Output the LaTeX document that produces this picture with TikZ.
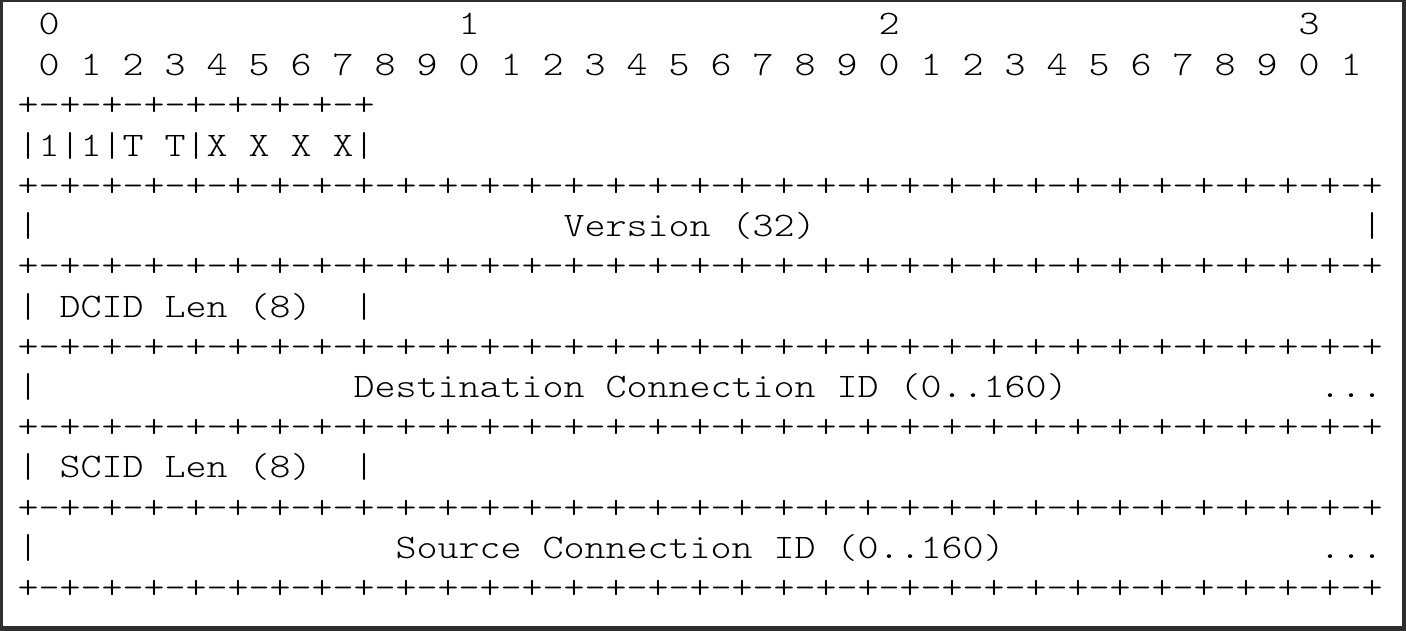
\documentclass[tikz,border=0pt]{standalone}
\usepackage{fontspec}
\setmonofont[FakeStretch=1.163]{Latin Modern Mono Light}
\frenchspacing

% one row of the ASCII ruler
\def\fullrule{+-+-+-+-+-+-+-+-+-+-+-+-+-+-+-+-+-+-+-+-+-+-+-+-+-+-+-+-+-+-+-+-+}
\def\shortrule{+-+-+-+-+-+-+-+-+}

\begin{document}
\begin{tikzpicture}[
  x=1pt, y=1pt,
  ascii/.style={anchor=base west, inner sep=0pt, outer sep=0pt,
                font=\ttfamily\fontsize{34.4}{40}\selectfont},
  frame/.style={fill=black!82}
]
\fill[frame] (0,0) rectangle (1406,-631);
\fill[white] (3,-2) rectangle (1402,-626);
\useasboundingbox (0,0) rectangle (1406,-631);

% bit numbers
\node[ascii] (tens0) at ({17.5+21*1},-35) {0};
\node[ascii] (tens1) at ({17.5+21*21},-35) {1};
\node[ascii] (tens2) at ({17.5+21*41},-35) {2};
\node[ascii] (tens3) at ({17.5+21*61},-35) {3};
\node[ascii] (bits) at ({17.5+21*1},-76)
  {0 1 2 3 4 5 6 7 8 9 0 1 2 3 4 5 6 7 8 9 0 1 2 3 4 5 6 7 8 9 0 1};

% first byte
\node[ascii] (topshort) at (17.5,-116) {\shortrule};
\node[ascii] (flags) at (17.5,-156.2) {|1|1|T T|X X X X|};

% full width rules
\foreach \k in {4,6,8,10,12,14}
  \node[ascii] (rule\k) at (17.5,{-116-40.2*(\k-2)}) {\fullrule};

% version
\node[ascii] (verl) at (17.5,-236.6) {|};
\node[ascii] (ver) at ({17.5+21*26},-236.6) {Version (32)};
\node[ascii] (verr) at ({17.5+21*64},-236.6) {|};

% destination id
\node[ascii] (dlen) at (17.5,-317) {| DCID Len (8)};
\node[ascii] (dlenr) at ({17.5+21*16},-317) {|};
\node[ascii] (dcidl) at (17.5,-397.4) {|};
\node[ascii] (dcid) at ({17.5+21*16},-397.4) {Destination Connection ID (0..160)};
\node[ascii] (dcidr) at ({17.5+21*62},-397.4) {...};

% source id
\node[ascii] (slen) at (17.5,-477.8) {| SCID Len (8)};
\node[ascii] (slenr) at ({17.5+21*16},-477.8) {|};
\node[ascii] (scidl) at (17.5,-558.2) {|};
\node[ascii] (scid) at ({17.5+21*18},-558.2) {Source Connection ID (0..160)};
\node[ascii] (scidr) at ({17.5+21*62},-558.2) {...};
\end{tikzpicture}
\end{document}
